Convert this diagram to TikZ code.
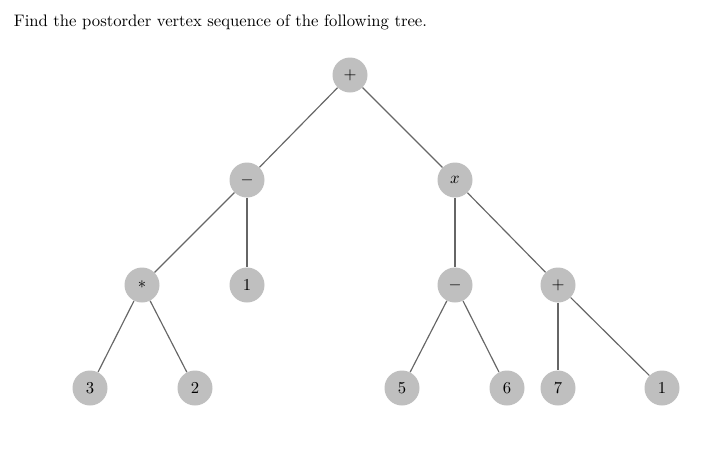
\documentclass[tikz,border=0pt]{standalone}
\begin{document}
\begin{tikzpicture}[x=0.6pt,y=-0.6pt,
  vtx/.style={circle,fill=black!25,inner sep=0pt,minimum size=21pt},
  edge/.style={draw=black!60,line width=0.7pt}]
\useasboundingbox (0,0) rectangle (713,467);
\node[anchor=west] (t) at (8,22) {Find the postorder vertex sequence of the following tree.};
\node[vtx] (a) at (350,75) {$+$};
\node[vtx] (b) at (247,180) {$-$};
\node[vtx] (c) at (455,180) {$x$};
\node[vtx] (d) at (142,285) {$*$};
\node[vtx] (e) at (247,285) {1};
\node[vtx] (f) at (455,285) {$-$};
\node[vtx] (g) at (558,285) {$+$};
\node[vtx] (h) at (90,388) {3};
\node[vtx] (i) at (195,388) {2};
\node[vtx] (j) at (402,388) {5};
\node[vtx] (k) at (507,388) {6};
\node[vtx] (l) at (558,388) {7};
\node[vtx] (m) at (662,388) {1};
\foreach \u/\v in {a/b,a/c,b/d,b/e,c/f,c/g,d/h,d/i,f/j,f/k,g/l,g/m}
  \draw[edge] (\u) -- (\v);
\end{tikzpicture}
\end{document}
